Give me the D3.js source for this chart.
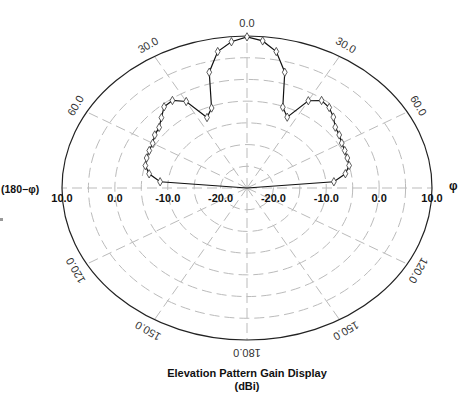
<!DOCTYPE html>
<html><head><meta charset="utf-8">
<script src="https://cdn.jsdelivr.net/npm/d3@7"></script>
<style>body{margin:0;background:#fff}svg{display:block}</style>
</head><body><svg id="c" width="474" height="419"></svg>
<script>
// ---- data ----
const angles = [0,5,10,15,20,25,30,35,40,45,50,55,60,65,70,75,80,85,90];
const gainPhi = [9.8,9.0,6.9,2.6,-5.2,-7.0,-1.8,-0.4,-0.8,-1.9,-3.2,-3.7,-4.3,-4.6,-4.8,-5.0,-6.1,-8.5,-25];
const gain180 = [9.8,8.8,6.9,2.6,-5.4,-7.1,-2.0,-0.4,-0.6,-2.1,-3.3,-3.7,-4.4,-4.6,-4.8,-5.1,-6.2,-8.5,-25];
const ringValues = [-20,-15,-10,-5,0,5];
const radialLabels = [10,0,-10,-20];
const angleLabels = [0,30,60,120,150,180];
const spokeAngles = d3.range(0,360,30);
const title = "Elevation Pattern Gain Display";
const unitLabel = "(dBi)";

// ---- layout ----
const svg = d3.select("#c");
const cx = 247, cy = 188, rx = 185, ry = 152;
const r = d3.scaleLinear().domain([-25,10]).range([0,1]).clamp(true);
const rad = d => d*Math.PI/180;
const px = (a,v) => cx + rx*r(v)*Math.sin(rad(a));
const py = (a,v) => cy - ry*r(v)*Math.cos(rad(a));

const grid = svg.append("g");
grid.selectAll("line.sp").data(spokeAngles).join("line")
  .attr("x1",cx).attr("y1",cy)
  .attr("x2",a=>px(a,10)).attr("y2",a=>py(a,10))
  .attr("stroke","#bbb").attr("stroke-width",1).attr("stroke-dasharray","10,5");
grid.selectAll("ellipse.rg").data(ringValues).join("ellipse")
  .attr("cx",cx).attr("cy",cy)
  .attr("rx",v=>rx*r(v)).attr("ry",v=>ry*r(v))
  .attr("fill","none").attr("stroke","#bbb").attr("stroke-width",1).attr("stroke-dasharray","10,5");
grid.append("ellipse").attr("cx",cx).attr("cy",cy).attr("rx",rx).attr("ry",ry)
  .attr("fill","none").attr("stroke","#222").attr("stroke-width",1.2);

const lab = svg.append("g").attr("font-family","Liberation Sans, Arial, sans-serif");
[-90,90].forEach(a=>{
  lab.selectAll(null).data(radialLabels).join("text")
    .attr("x",v=>px(a,v)).attr("y",202)
    .attr("text-anchor","middle").attr("font-size",11).attr("font-weight","bold")
    .attr("fill","#111").text(v=>v.toFixed(1));
});
angleLabels.forEach(a=>{
  [a,-a].filter((d,i)=>!(i===1&&(a===0||a===180))).forEach(t=>{
    const ox = cx + (rx+13)*Math.sin(rad(t)), oy = cy - (ry+13)*Math.cos(rad(t));
    lab.append("text").attr("transform",`translate(${ox},${oy}) rotate(${t})`)
      .attr("text-anchor","middle").attr("dy","0.35em")
      .attr("font-size",11).attr("fill","#333").text(a.toFixed(1));
  });
});
lab.append("text").attr("x",1).attr("y",193).attr("font-size",10.5).attr("font-weight","bold")
  .attr("fill","#111").text("(180\u2212\u03C6)");
lab.append("text").attr("x",449).attr("y",190).attr("font-size",12).attr("font-weight","bold")
  .attr("fill","#111").text("\u03C6");
svg.append("rect").attr("x",0).attr("y",218).attr("width",3).attr("height",3).attr("fill","#999");

// data
const pts = [];
for(let i=angles.length-1;i>=0;i--) pts.push([-angles[i], gain180[i]]);
for(let i=1;i<angles.length;i++) pts.push([angles[i], gainPhi[i]]);
const line = d3.line().x(d=>px(d[0],d[1])).y(d=>py(d[0],d[1]));
svg.append("path").datum(pts).attr("d",line).attr("fill","none")
  .attr("stroke","#111").attr("stroke-width",1.2);
const sym = d3.symbol().type(d3.symbolDiamond).size(20);
svg.selectAll("path.mk").data(pts.filter(d=>d[1]>-25)).join("path")
  .attr("d",sym).attr("transform",d=>`translate(${px(d[0],d[1])},${py(d[0],d[1])})`)
  .attr("fill","#fff").attr("stroke","#333").attr("stroke-width",0.8);

lab.append("text").attr("x",247).attr("y",377).attr("text-anchor","middle")
  .attr("font-size",11).attr("font-weight","bold").attr("fill","#111").text(title);
lab.append("text").attr("x",247).attr("y",390).attr("text-anchor","middle")
  .attr("font-size",11).attr("font-weight","bold").attr("fill","#111").text(unitLabel);
</script></body></html>
